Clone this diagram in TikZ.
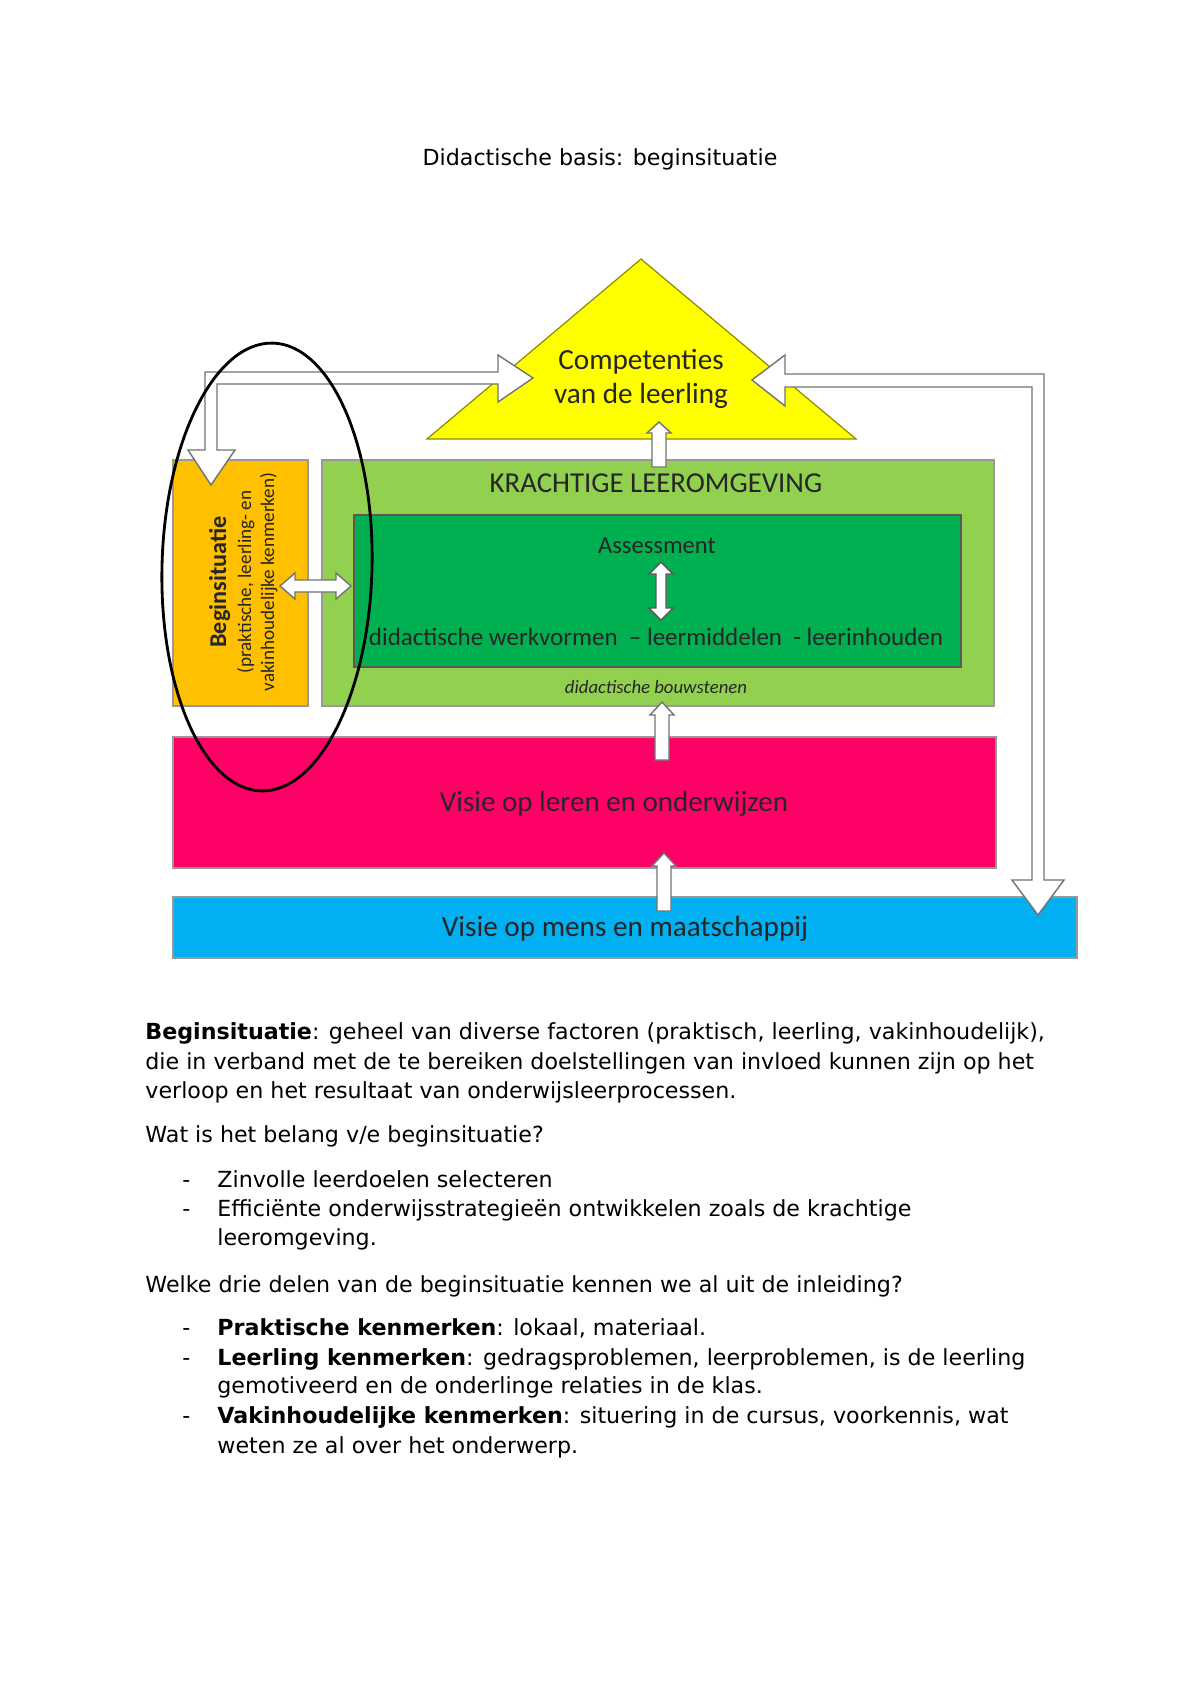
\documentclass[tikz,border=0pt]{standalone}
\usepackage{fontspec}
\setmainfont{DejaVu Sans}
\newfontfamily\calibri{Carlito}
\usetikzlibrary{fit}

\definecolor{oranje}{HTML}{FFC000}
\definecolor{lichtgroen}{HTML}{92D050}
\definecolor{donkergroen}{HTML}{00B050}
\definecolor{roze}{HTML}{FF0066}
\definecolor{blauw}{HTML}{00B0F0}
\definecolor{geel}{HTML}{FFFF00}

\tikzset{
  vak/.style={rectangle, draw=black!40, line width=0.6pt, inner sep=0pt},
  blok/.style={draw=black!55, fill=white, line width=0.7pt, line join=miter},
  tekst/.style={font=\fontsize{11}{13}\selectfont, inner sep=0pt, anchor=base west},
  schrift/.style={inner sep=0pt, anchor=base, text=black!85},
}

\begin{document}
\begin{tikzpicture}[x=0.496pt, y=-0.496pt]
    \useasboundingbox (0,0) rectangle (1200,1698);

    \node[tekst, anchor=base] (titel) at (600,165) {Didactische basis: beginsituatie};

    % diagram
    \draw[fill=geel, draw=geel!55!black, line width=0.6pt] (427,439) -- (641,259) -- (856,439) -- cycle;
    \node[vak, fill=oranje, fit={(173,460) (308,706)}] (begin) {};
    \node[vak, fill=lichtgroen, fit={(322,460) (994,706)}] (kracht) {};
    \node[vak, fill=donkergroen, draw=black!65, fit={(354,515) (961,667)}] (bouw) {};
    \node[vak, fill=roze, fit={(173,737) (996,868)}] (leren) {};
    \node[vak, fill=blauw, fit={(173,897) (1077,958)}] (mens) {};

    \node[schrift, font=\calibri\fontsize{14.5}{17}\selectfont] (comp) at (641,369) {Competenties};
    \node[schrift, font=\calibri\fontsize{14.5}{17}\selectfont] (leerling) at (641,403) {van de leerling};
    \node[schrift, font=\calibri\fontsize{14.3}{17}\selectfont] (krachttitel) at (656,492) {KRACHTIGE LEEROMGEVING};
    \node[schrift, font=\calibri\fontsize{12.2}{15}\selectfont] (assess) at (657,553) {Assessment};
    \node[schrift, font=\calibri\fontsize{12.4}{15}\selectfont] (werk) at (656,645) {didactische werkvormen ~– leermiddelen ~- leerinhouden};
    \node[schrift, font=\calibri\itshape\fontsize{9.3}{11}\selectfont] (bouwst) at (656,693) {didactische bouwstenen};
    \node[schrift, font=\calibri\fontsize{14.4}{17}\selectfont] (lerentxt) at (614,811) {Visie op leren en onderwijzen};
    \node[schrift, font=\calibri\fontsize{14.5}{17}\selectfont] (menstxt) at (625,936) {Visie op mens en maatschappij};
    \node[schrift, rotate=90, font=\calibri\bfseries\fontsize{12}{14}\selectfont] (begin1) at (226,582) {Beginsituatie};
    \node[schrift, rotate=90, font=\calibri\fontsize{9.5}{11}\selectfont] (begin2) at (251,582) {(praktische, leerling- en};
    \node[schrift, rotate=90, font=\calibri\fontsize{9.5}{11}\selectfont] (begin3) at (274,582) {vakinhoudelijke kenmerken)};

    % blokpijlen
    \draw[blok] (188,450) -- (205,450) -- (205,372) -- (498,372) -- (498,355) -- (533,378) -- (498,402) -- (498,384) -- (217,384) -- (217,450) -- (235,450) -- (211,485) -- cycle;
    \draw[blok] (752,380) -- (785,355) -- (785,374) -- (1044,374) -- (1044,880) -- (1064,880) -- (1038,915) -- (1012,880) -- (1032,880) -- (1032,387) -- (785,387) -- (785,406) -- cycle;
    \draw[blok] (659,422) -- (671,433) -- (666,433) -- (666,467) -- (652,467) -- (652,433) -- (647,433) -- cycle;
    \draw[blok] (662,702) -- (674,715) -- (669,715) -- (669,760) -- (655,760) -- (655,715) -- (650,715) -- cycle;
    \draw[blok] (664,853) -- (676,866) -- (671,866) -- (671,911) -- (657,911) -- (657,866) -- (652,866) -- cycle;
    \draw[blok] (280,586) -- (295,573) -- (295,580) -- (336,580) -- (336,573) -- (351,586) -- (336,599) -- (336,592) -- (295,592) -- (295,599) -- cycle;
    \draw[blok, draw=black!65] (661,562) -- (673,574) -- (666,574) -- (666,608) -- (673,608) -- (661,620) -- (649,608) -- (656,608) -- (656,574) -- (649,574) -- cycle;

    \draw[line width=1.4pt] (267,567) ellipse [x radius=105, y radius=224, rotate=-1.5];

    % tekst
    \node[tekst] (r1) at (145,1039) {\textbf{Beginsituatie}: geheel van diverse factoren (praktisch, leerling, vakinhoudelijk),};
    \node[tekst] (r2) at (145,1069) {die in verband met de te bereiken doelstellingen van invloed kunnen zijn op het};
    \node[tekst] (r3) at (145,1098) {verloop en het resultaat van onderwijsleerprocessen.};
    \node[tekst] (r4) at (145,1142) {Wat is het belang v/e beginsituatie?};
    \node[tekst] (r5) at (217,1187) {Zinvolle leerdoelen selecteren};
    \node[tekst] (r6) at (217,1216) {Efficiënte onderwijsstrategieën ontwikkelen zoals de krachtige};
    \node[tekst] (r7) at (217,1245) {leeromgeving.};
    \node[tekst] (r8) at (145,1292) {Welke drie delen van de beginsituatie kennen we al uit de inleiding?};
    \node[tekst] (r9) at (217,1335) {\textbf{Praktische kenmerken}: lokaal, materiaal.};
    \node[tekst] (r10) at (217,1365) {\textbf{Leerling kenmerken}: gedragsproblemen, leerproblemen, is de leerling};
    \node[tekst] (r11) at (217,1393) {gemotiveerd en de onderlinge relaties in de klas.};
    \node[tekst] (r12) at (217,1423) {\textbf{Vakinhoudelijke kenmerken}: situering in de cursus, voorkennis, wat};
    \node[tekst] (r13) at (217,1453) {weten ze al over het onderwerp.};
    \foreach \y in {1187,1216,1335,1365,1423}
        \node[tekst] (streep\y) at (182,\y) {-};
\end{tikzpicture}
\end{document}
